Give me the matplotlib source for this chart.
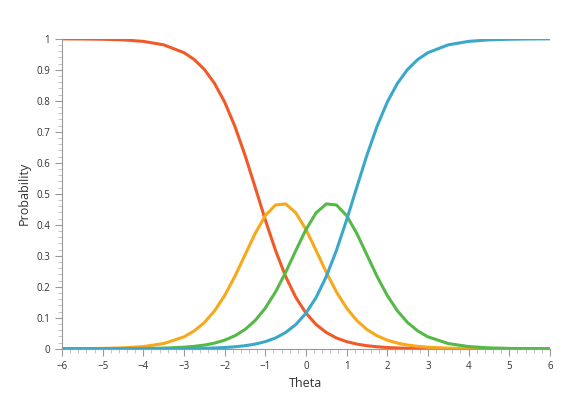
import matplotlib
matplotlib.use("Agg")
import matplotlib.pyplot as plt
from matplotlib.ticker import MultipleLocator

theta = [-6, -5.5, -5, -4.5, -4, -3.5, -3, -2.75, -2.5, -2.25, -2, -1.75, -1.5, -1.25,
         -1, -0.75, -0.5, -0.25, 0, 0.25, 0.5, 0.75, 1, 1.25, 1.5, 1.75, 2, 2.25, 2.5,
         2.75, 3, 3.5, 4, 4.5, 5, 5.5, 6]
p_red = [.9997, .9993, .9984, .9964, .9915, .9804, .9552, .9331, .9012, .8563, .7958, .7181,
         .6248, .5212, .4158, .3176, .2333, .1659, .1151, .0783, .0527, .0350, .0232, .0153,
         .0101, .0066, .0043, .0028, .0019, .0012, .0008, .0003, .0001, .0001, 0, 0, 0]
p_orange = [.0003, .0006, .0014, .0031, .0074, .0170, .0387, .0577, .0847, .1224, .1719, .2333,
            .3028, .3721, .4297, .4640, .4673, .4388, .3849, .3170, .2467, .1834, .1313,
            .0914, .0623, .0420, .0280, .0185, .0122, .0080, .0053, .0023, .0010, .0004,
            .0002, .0001, 0]
p_green = p_orange[::-1]
p_blue = p_red[::-1]

series = [(p_red, "#F05A28"), (p_orange, "#F7A81B"), (p_green, "#55B947"), (p_blue, "#3BA7CB")]

plt.rcParams['font.family'] = ['Open Sans', 'DejaVu Sans']
fig, ax = plt.subplots(figsize=(5.64, 4.08), dpi=100)
fig.subplots_adjust(left=0.11, right=0.975, bottom=0.145, top=0.905)

for vals, col in series:
    ax.plot(theta, vals, color=col, lw=2.2, solid_capstyle='round', solid_joinstyle='round')

ax.set_xlim(-6, 6)
ax.set_ylim(0, 1)
ax.xaxis.set_major_locator(MultipleLocator(1))
ax.xaxis.set_minor_locator(MultipleLocator(0.2))
ax.yaxis.set_minor_locator(MultipleLocator(0.02))
ax.set_yticks([i / 10 for i in range(11)])
ax.set_yticklabels(["0"] + [f"0.{i}" for i in range(1, 10)] + ["1"])
ax.tick_params(axis='both', which='major', labelsize=7, color='#999999', length=5, labelcolor='#333333')
ax.tick_params(axis='both', which='minor', color='#bbbbbb', length=3)
for s in ['top', 'right']:
    ax.spines[s].set_visible(False)
for s in ['left', 'bottom']:
    ax.spines[s].set_color('#999999')
ax.set_xlabel("Theta", fontsize=9, color='#333333')
ax.set_ylabel("Probability", fontsize=9, color='#333333')

fig.savefig("out.png", dpi=100)
